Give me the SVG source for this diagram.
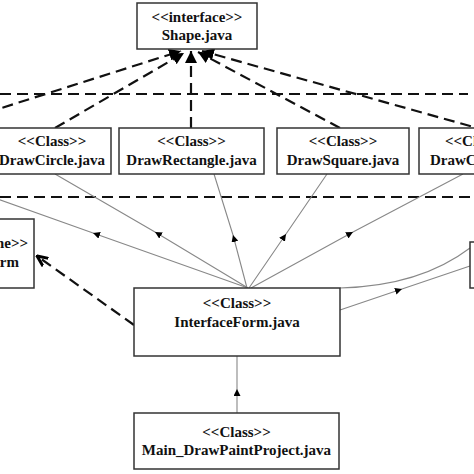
<svg xmlns="http://www.w3.org/2000/svg" width="474" height="474" viewBox="0 0 474 474">
<style>
.box{fill:#fff;stroke:#333;stroke-width:1.5}
.t{font-family:"Liberation Serif","Times New Roman",serif;font-weight:bold;font-size:15px;fill:#111;text-anchor:middle}
.dash{fill:none;stroke:#111;stroke-width:2.2;stroke-dasharray:11 6}
.thin{fill:none;stroke:#888;stroke-width:1.1}
</style>
<defs>
<marker id="ah" viewBox="0 0 10 10" refX="10" refY="5" markerWidth="7" markerHeight="7" markerUnits="userSpaceOnUse" orient="auto">
<path d="M0,0 L10,5 L0,10 z" fill="#000"/>
</marker>
<marker id="big" viewBox="0 0 10 10" refX="10" refY="5" markerWidth="12" markerHeight="12" markerUnits="userSpaceOnUse" orient="auto">
<path d="M0,0 L10,5 L0,10 z" fill="#000"/>
</marker>
<marker id="vee" viewBox="0 0 10 10" refX="9" refY="5" markerWidth="12" markerHeight="12" markerUnits="userSpaceOnUse" orient="auto">
<path d="M0,1 L9,5 L0,9" fill="none" stroke="#000" stroke-width="2.5"/>
</marker>
</defs>
<g id="connectors">
<line class="dash" x1="0" y1="94" x2="468" y2="94"/>
<line class="dash" x1="0" y1="197" x2="470" y2="197"/>
<path class="dash" d="M-30,118 L181,51" marker-end="url(#big)"/>
<path class="dash" d="M55,128 L184,53" marker-end="url(#big)"/>
<path class="dash" d="M191,128 L191,51" marker-end="url(#big)"/>
<path class="dash" d="M340,128 L198,52" marker-end="url(#big)"/>
<path class="dash" d="M520,140 L202,51" marker-end="url(#big)"/>
<path class="thin" d="M248,288 L93,233 L-50,182" marker-mid="url(#ah)"/>
<path class="thin" d="M248,288 L155,232 L55,174" marker-mid="url(#ah)"/>
<path class="thin" d="M247,288 L233,235 L214,174" marker-mid="url(#ah)"/>
<path class="thin" d="M249,288 L286,234 L327,174" marker-mid="url(#ah)"/>
<path class="thin" d="M251,288 L353,232 L463,174" marker-mid="url(#ah)"/>
<path class="thin" d="M340,288 Q420,286 470,248"/>
<path class="thin" d="M340,310 L402,289 L470,266" marker-mid="url(#ah)"/>
<path class="thin" d="M237,413 L237,389 L237,356" marker-mid="url(#ah)"/>
<path class="dash" d="M134,325 L37,256" marker-end="url(#vee)"/>
</g>
<g id="shape">
<rect class="box" x="137" y="3" width="120" height="46"/>
<text class="t" x="197" y="22">&lt;&lt;interface&gt;&gt;</text>
<text class="t" x="197" y="40">Shape.java</text>
</g>
<g id="drawcircle">
<rect class="box" x="-8" y="128" width="119" height="46"/>
<text class="t" x="52" y="146">&lt;&lt;Class&gt;&gt;</text>
<text class="t" x="52" y="165">DrawCircle.java</text>
</g>
<g id="drawrectangle">
<rect class="box" x="119" y="128" width="145" height="46"/>
<text class="t" x="191.5" y="146">&lt;&lt;Class&gt;&gt;</text>
<text class="t" x="191.5" y="165">DrawRectangle.java</text>
</g>
<g id="drawsquare">
<rect class="box" x="277" y="128" width="132" height="46"/>
<text class="t" x="343" y="146">&lt;&lt;Class&gt;&gt;</text>
<text class="t" x="343" y="165">DrawSquare.java</text>
</g>
<g id="drawc">
<rect class="box" x="419" y="128" width="120" height="46"/>
<text class="t" x="445" y="146" style="text-anchor:start">&lt;&lt;Class&gt;&gt;</text>
<text class="t" x="430" y="165" style="text-anchor:start">DrawCurve.java</text>
</g>
<g id="leftbox">
<rect class="box" x="-60" y="219" width="94" height="69"/>
<text class="t" x="28" y="248" style="text-anchor:end">&lt;&lt;Frame&gt;&gt;</text>
<text class="t" x="19" y="267" style="text-anchor:end">Form</text>
</g>
<g id="rightbox">
<rect class="box" x="470" y="242" width="60" height="46"/>
</g>
<g id="interfaceform">
<rect class="box" x="134" y="288" width="206" height="68"/>
<text class="t" x="237" y="308">&lt;&lt;Class&gt;&gt;</text>
<text class="t" x="237" y="327">InterfaceForm.java</text>
</g>
<g id="main">
<rect class="box" x="134" y="413" width="205" height="56"/>
<text class="t" x="236.5" y="437">&lt;&lt;Class&gt;&gt;</text>
<text class="t" x="236.5" y="455">Main_DrawPaintProject.java</text>
</g>
</svg>
